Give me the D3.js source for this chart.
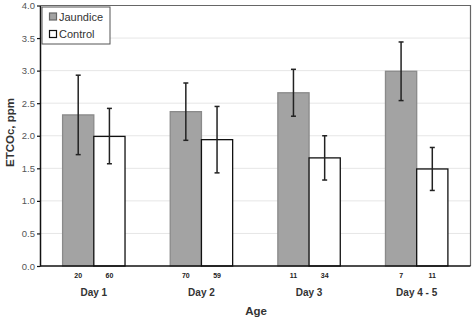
<!DOCTYPE html>
<html><head><meta charset="utf-8">
<script src="https://cdn.jsdelivr.net/npm/d3@7"></script>
<style>body{margin:0;background:#fff}svg{display:block}text{font-family:Arial,"Liberation Sans",sans-serif}</style>
</head><body>
<svg id="c" width="474" height="332"></svg>
<script>
const categories = ["Day 1", "Day 2", "Day 3", "Day 4 - 5"];
const seriesNames = ["Jaundice", "Control"];
const jaundiceMean = [2.32, 2.37, 2.66, 2.99];
const jaundiceLow  = [1.71, 1.93, 2.30, 2.54];
const jaundiceHigh = [2.93, 2.81, 3.02, 3.44];
const controlMean  = [1.99, 1.94, 1.66, 1.49];
const controlLow   = [1.57, 1.43, 1.32, 1.16];
const controlHigh  = [2.42, 2.45, 2.00, 1.82];
const jaundiceN = ["20", "70", "11", "7"];
const controlN  = ["60", "59", "34", "11"];
const yTicks = [0, 0.5, 1.0, 1.5, 2.0, 2.5, 3.0, 3.5, 4.0];

const svg = d3.select("#c");
const L = 40, R = 470.5, T = 5.5, B = 266;
const x0 = d3.scaleBand().domain(categories).range([L, R]).paddingInner(0.42).paddingOuter(0.21);
const x1 = d3.scaleBand().domain(seriesNames).range([0, x0.bandwidth()]);
const y = d3.scaleLinear().domain([0, 4]).range([B, T]);

// gridlines
svg.append("g").selectAll("line").data(yTicks.filter(d => d > 0 && d < 4)).join("line")
  .attr("x1", L).attr("x2", R).attr("y1", d => y(d)).attr("y2", d => y(d))
  .attr("stroke", "#e6e6e6").attr("stroke-width", 1);

// frame top/right
svg.append("path").attr("d", `M${L},${T}H${R}V${B}`).attr("fill", "none").attr("stroke", "#666").attr("stroke-width", 1.2);

const data = categories.map((c, i) => [
  {cat: c, s: "Jaundice", v: jaundiceMean[i], lo: jaundiceLow[i], hi: jaundiceHigh[i], n: jaundiceN[i]},
  {cat: c, s: "Control", v: controlMean[i], lo: controlLow[i], hi: controlHigh[i], n: controlN[i]}
]).flat();

const fills = {Jaundice: "#a3a3a3", Control: "#ffffff"};
const strokes = {Jaundice: "#8a8a8a", Control: "#111"};

svg.append("g").selectAll("rect").data(data).join("rect")
  .attr("x", d => x0(d.cat) + x1(d.s)).attr("width", x1.bandwidth())
  .attr("y", d => y(d.v)).attr("height", d => B - y(d.v))
  .attr("fill", d => fills[d.s]).attr("stroke", d => strokes[d.s]).attr("stroke-width", 1.3);

// error bars
const eb = svg.append("g").attr("stroke", "#222").attr("stroke-width", 1.5);
data.forEach(d => {
  const cx = x0(d.cat) + x1(d.s) + x1.bandwidth() / 2;
  eb.append("line").attr("x1", cx).attr("x2", cx).attr("y1", y(d.lo)).attr("y2", y(d.hi));
  eb.append("line").attr("x1", cx - 2.5).attr("x2", cx + 2.5).attr("y1", y(d.lo)).attr("y2", y(d.lo));
  eb.append("line").attr("x1", cx - 2.5).attr("x2", cx + 2.5).attr("y1", y(d.hi)).attr("y2", y(d.hi));
});

// y axis
const ya = svg.append("g").attr("transform", `translate(${L},0)`)
  .call(d3.axisLeft(y).tickValues(yTicks).tickFormat(d3.format(".1f")).tickSize(3).tickSizeOuter(0));
ya.select(".domain").attr("stroke", "#111").attr("stroke-width", 1.5);
ya.selectAll(".tick line").attr("stroke", "#111").attr("stroke-width", 1.2);
ya.selectAll(".tick text").attr("fill", "#555").attr("font-size", 9.5).attr("x", -5)
  .style("font-family", "Arial, 'Liberation Sans', sans-serif");

// x axis line
svg.append("line").attr("x1", L).attr("x2", R).attr("y1", B).attr("y2", B).attr("stroke", "#111").attr("stroke-width", 1.5);

// n labels
svg.append("g").selectAll("text").data(data).join("text")
  .attr("x", d => x0(d.cat) + x1(d.s) + x1.bandwidth() / 2).attr("y", 277.5)
  .attr("text-anchor", "middle").attr("font-size", 7).attr("font-weight", "bold").attr("fill", "#222")
  .text(d => d.n);

// category labels
svg.append("g").selectAll("text").data(categories).join("text")
  .attr("x", d => x0(d) + x0.bandwidth() / 2).attr("y", 295.5)
  .attr("text-anchor", "middle").attr("font-size", 10).attr("font-weight", "bold").attr("fill", "#333")
  .text(d => d);

svg.append("text").attr("x", 256).attr("y", 315).attr("text-anchor", "middle")
  .attr("font-size", 11.5).attr("font-weight", "bold").attr("fill", "#333").text("Age");

svg.append("text").attr("transform", `translate(14,132.5) rotate(-90)`)
  .attr("text-anchor", "middle").attr("font-size", 11.5).attr("font-weight", "bold").attr("fill", "#333")
  .text("ETCOc, ppm");

// legend
const lg = svg.append("g");
lg.append("rect").attr("x", 42).attr("y", 7).attr("width", 68).attr("height", 37)
  .attr("fill", "#fff").attr("stroke", "#555").attr("stroke-width", 1);
seriesNames.forEach((s, i) => {
  const yy = 16.5 + i * 17.5;
  lg.append("rect").attr("x", 49.5).attr("y", yy - 3.5).attr("width", 7).attr("height", 7)
    .attr("fill", fills[s]).attr("stroke", s === "Control" ? "#111" : "#666").attr("stroke-width", 1.2);
  lg.append("text").attr("x", 59).attr("y", yy + 4).attr("font-size", 11).attr("fill", "#333").text(s);
});
</script>
</body></html>
